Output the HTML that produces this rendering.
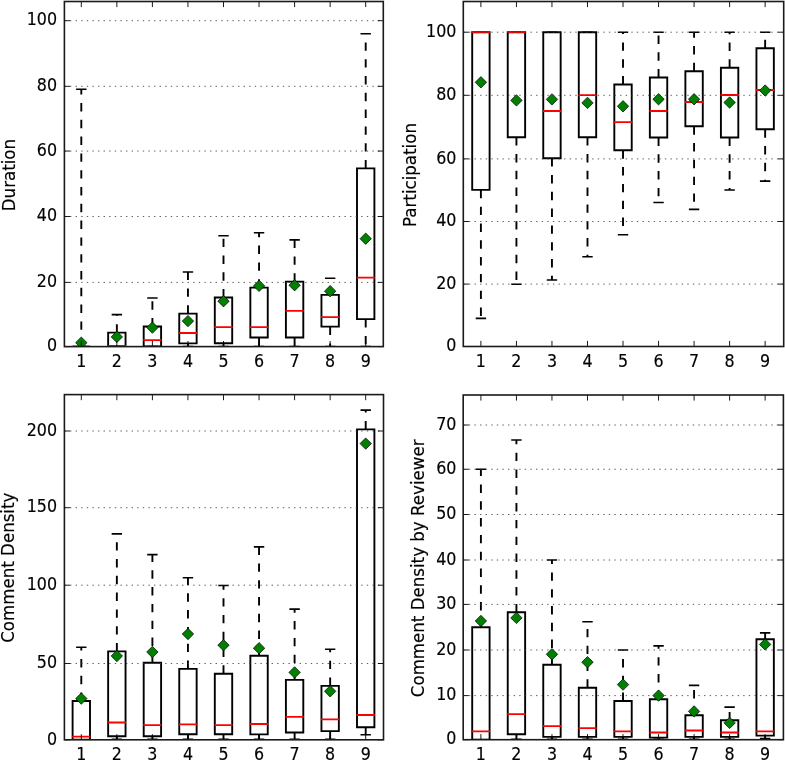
<!DOCTYPE html>
<html lang="en"><head><meta charset="utf-8"><title>Boxplots</title>
<style>
html,body{margin:0;padding:0;background:#fff;}
body{width:785px;height:760px;overflow:hidden;}
svg{display:block;}
text{font-family:"DejaVu Sans","Liberation Sans",sans-serif;font-size:16.67px;fill:#000;stroke:#000;stroke-width:0.15px;}
.sp{fill:none;stroke:#1a1a1a;stroke-width:1.6;}
.bx{fill:none;stroke:#000;stroke-width:1.9;stroke-linejoin:miter;}
.wh{fill:none;stroke:#000;stroke-width:1.9;stroke-dasharray:8.4 8.4;}
.cp{fill:none;stroke:#000;stroke-width:1.6;}
.md{fill:none;stroke:#f00;stroke-width:1.8;}
.mn{fill:#008000;stroke:#000;stroke-width:0.7;}
.gr{fill:none;stroke:#3a3a3a;stroke-opacity:0.9;stroke-width:0.9;stroke-dasharray:1.4 4.2;}
.tk{fill:none;stroke:#000;stroke-width:0.9;}
</style></head><body>
<svg width="785" height="760" viewBox="0 0 785 760">
<rect x="0" y="0" width="785" height="760" fill="#fff"/>
<g>
<clipPath id="c0"><rect x="64.4" y="1.5" width="318.9" height="345.1"/></clipPath>
<g clip-path="url(#c0)">
<path class="wh" d="M81.3 346.6V89.3"/>
<path class="cp" d="M76.1 89.3H86.5"/>
<path class="cp" d="M76.1 346.6H86.5"/>
<path class="bx" d="M72.6 346.6H90V346.6H72.6Z"/>
<path class="md" d="M72.2 346.6H90.4"/>
<path class="wh" d="M116.85 332.6V314.6"/>
<path class="cp" d="M111.65 314.6H122.05"/>
<path class="cp" d="M111.65 346.6H122.05"/>
<path class="bx" d="M108.15 346.6H125.55V332.6H108.15Z"/>
<path class="md" d="M107.75 345.8H125.95"/>
<path class="wh" d="M152.4 326.5V298"/>
<path class="cp" d="M147.2 298H157.6"/>
<path class="cp" d="M147.2 346.6H157.6"/>
<path class="bx" d="M143.7 346.4H161.1V326.5H143.7Z"/>
<path class="md" d="M143.3 340.2H161.5"/>
<path class="wh" d="M187.95 313.6V272"/>
<path class="wh" d="M187.95 343.4V346.6"/>
<path class="cp" d="M182.75 272H193.15"/>
<path class="cp" d="M182.75 346.6H193.15"/>
<path class="bx" d="M179.25 343.4H196.65V313.6H179.25Z"/>
<path class="md" d="M178.85 333H197.05"/>
<path class="wh" d="M223.5 297.5V235.8"/>
<path class="wh" d="M223.5 343.3V346.6"/>
<path class="cp" d="M218.3 235.8H228.7"/>
<path class="cp" d="M218.3 346.6H228.7"/>
<path class="bx" d="M214.8 343.3H232.2V297.5H214.8Z"/>
<path class="md" d="M214.4 327.1H232.6"/>
<path class="wh" d="M259.05 287.6V232.7"/>
<path class="wh" d="M259.05 337.5V346.6"/>
<path class="cp" d="M253.85 232.7H264.25"/>
<path class="cp" d="M253.85 346.6H264.25"/>
<path class="bx" d="M250.35 337.5H267.75V287.6H250.35Z"/>
<path class="md" d="M249.95 327.1H268.15"/>
<path class="wh" d="M294.6 281.6V239.9"/>
<path class="wh" d="M294.6 337.5V346.6"/>
<path class="cp" d="M289.4 239.9H299.8"/>
<path class="cp" d="M289.4 346.6H299.8"/>
<path class="bx" d="M285.9 337.5H303.3V281.6H285.9Z"/>
<path class="md" d="M285.5 310.9H303.7"/>
<path class="wh" d="M330.15 294.9V278.2"/>
<path class="wh" d="M330.15 326.6V346.6"/>
<path class="cp" d="M324.95 278.2H335.35"/>
<path class="cp" d="M324.95 346.6H335.35"/>
<path class="bx" d="M321.45 326.6H338.85V294.9H321.45Z"/>
<path class="md" d="M321.05 317.1H339.25"/>
<path class="wh" d="M365.7 168.4V33.7"/>
<path class="wh" d="M365.7 319.1V346.6"/>
<path class="cp" d="M360.5 33.7H370.9"/>
<path class="cp" d="M360.5 346.6H370.9"/>
<path class="bx" d="M357 319.1H374.4V168.4H357Z"/>
<path class="md" d="M356.6 277.7H374.8"/>
<path class="mn" d="M81.3 337L87 342.7L81.3 348.4L75.6 342.7Z"/>
<path class="mn" d="M116.85 331.2L122.55 336.9L116.85 342.6L111.15 336.9Z"/>
<path class="mn" d="M152.4 321.9L158.1 327.6L152.4 333.3L146.7 327.6Z"/>
<path class="mn" d="M187.95 315.4L193.65 321.1L187.95 326.8L182.25 321.1Z"/>
<path class="mn" d="M223.5 295.5L229.2 301.2L223.5 306.9L217.8 301.2Z"/>
<path class="mn" d="M259.05 280.2L264.75 285.9L259.05 291.6L253.35 285.9Z"/>
<path class="mn" d="M294.6 279.5L300.3 285.2L294.6 290.9L288.9 285.2Z"/>
<path class="mn" d="M330.15 285.5L335.85 291.2L330.15 296.9L324.45 291.2Z"/>
<path class="mn" d="M365.7 233L371.4 238.7L365.7 244.4L360 238.7Z"/>
</g>
<path class="tk" d="M64.4 346.6h5.6 M383.3 346.6h-5.6"/>
<path class="gr" d="M64.4 282.4H383.3"/>
<path class="tk" d="M64.4 282.4h5.6 M383.3 282.4h-5.6"/>
<path class="gr" d="M64.4 216.5H383.3"/>
<path class="tk" d="M64.4 216.5h5.6 M383.3 216.5h-5.6"/>
<path class="gr" d="M64.4 151.05H383.3"/>
<path class="tk" d="M64.4 151.05h5.6 M383.3 151.05h-5.6"/>
<path class="gr" d="M64.4 86.3H383.3"/>
<path class="tk" d="M64.4 86.3h5.6 M383.3 86.3h-5.6"/>
<path class="gr" d="M64.4 20.7H383.3"/>
<path class="tk" d="M64.4 20.7h5.6 M383.3 20.7h-5.6"/>
<path class="tk" d="M81.3 346.6v-5.6 M81.3 1.5v5.6"/>
<path class="tk" d="M116.85 346.6v-5.6 M116.85 1.5v5.6"/>
<path class="tk" d="M152.4 346.6v-5.6 M152.4 1.5v5.6"/>
<path class="tk" d="M187.95 346.6v-5.6 M187.95 1.5v5.6"/>
<path class="tk" d="M223.5 346.6v-5.6 M223.5 1.5v5.6"/>
<path class="tk" d="M259.05 346.6v-5.6 M259.05 1.5v5.6"/>
<path class="tk" d="M294.6 346.6v-5.6 M294.6 1.5v5.6"/>
<path class="tk" d="M330.15 346.6v-5.6 M330.15 1.5v5.6"/>
<path class="tk" d="M365.7 346.6v-5.6 M365.7 1.5v5.6"/>
<rect class="sp" x="64.4" y="1.5" width="318.9" height="345.1"/>
<text transform="translate(57.1 351.35) scale(0.955 1.10)" text-anchor="end">0</text>
<text transform="translate(57.1 287.15) scale(0.955 1.10)" text-anchor="end">20</text>
<text transform="translate(57.1 221.25) scale(0.955 1.10)" text-anchor="end">40</text>
<text transform="translate(57.1 155.8) scale(0.955 1.10)" text-anchor="end">60</text>
<text transform="translate(57.1 91.05) scale(0.955 1.10)" text-anchor="end">80</text>
<text transform="translate(57.1 25.45) scale(0.955 1.10)" text-anchor="end">100</text>
<text transform="translate(81.3 366.9) scale(0.955 1.10)" text-anchor="middle">1</text>
<text transform="translate(116.85 366.9) scale(0.955 1.10)" text-anchor="middle">2</text>
<text transform="translate(152.4 366.9) scale(0.955 1.10)" text-anchor="middle">3</text>
<text transform="translate(187.95 366.9) scale(0.955 1.10)" text-anchor="middle">4</text>
<text transform="translate(223.5 366.9) scale(0.955 1.10)" text-anchor="middle">5</text>
<text transform="translate(259.05 366.9) scale(0.955 1.10)" text-anchor="middle">6</text>
<text transform="translate(294.6 366.9) scale(0.955 1.10)" text-anchor="middle">7</text>
<text transform="translate(330.15 366.9) scale(0.955 1.10)" text-anchor="middle">8</text>
<text transform="translate(365.7 366.9) scale(0.955 1.10)" text-anchor="middle">9</text>
<text transform="translate(15.2 175.05) rotate(-90) scale(1 1.08)" text-anchor="middle">Duration</text>
</g>
<g>
<clipPath id="c1"><rect x="463.3" y="1.5" width="320.4" height="345"/></clipPath>
<g clip-path="url(#c1)">
<path class="wh" d="M480.9 189.9V318.4"/>
<path class="cp" d="M475.7 32.2H486.1"/>
<path class="cp" d="M475.7 318.4H486.1"/>
<path class="bx" d="M472.2 189.9H489.6V32.2H472.2Z"/>
<path class="md" d="M471.8 32.2H490"/>
<path class="wh" d="M516.43 137.2V284.2"/>
<path class="cp" d="M511.23 32.2H521.63"/>
<path class="cp" d="M511.23 284.2H521.63"/>
<path class="bx" d="M507.73 137.2H525.13V32.2H507.73Z"/>
<path class="md" d="M507.33 32.2H525.53"/>
<path class="wh" d="M551.96 158.2V280.05"/>
<path class="cp" d="M546.76 32.2H557.16"/>
<path class="cp" d="M546.76 280.05H557.16"/>
<path class="bx" d="M543.26 158.2H560.66V32.2H543.26Z"/>
<path class="md" d="M542.86 111H561.06"/>
<path class="wh" d="M587.49 137.2V256.8"/>
<path class="cp" d="M582.29 32.2H592.69"/>
<path class="cp" d="M582.29 256.8H592.69"/>
<path class="bx" d="M578.79 137.2H596.19V32.2H578.79Z"/>
<path class="md" d="M578.39 95.1H596.59"/>
<path class="wh" d="M623.02 84.45V32.3"/>
<path class="wh" d="M623.02 150.3V234.7"/>
<path class="cp" d="M617.82 32.3H628.22"/>
<path class="cp" d="M617.82 234.7H628.22"/>
<path class="bx" d="M614.32 150.3H631.72V84.45H614.32Z"/>
<path class="md" d="M613.92 122.1H632.12"/>
<path class="wh" d="M658.55 77.5V32.3"/>
<path class="wh" d="M658.55 137.5V202.45"/>
<path class="cp" d="M653.35 32.3H663.75"/>
<path class="cp" d="M653.35 202.45H663.75"/>
<path class="bx" d="M649.85 137.5H667.25V77.5H649.85Z"/>
<path class="md" d="M649.45 111H667.65"/>
<path class="wh" d="M694.08 71.25V32.3"/>
<path class="wh" d="M694.08 126.25V209.4"/>
<path class="cp" d="M688.88 32.3H699.28"/>
<path class="cp" d="M688.88 209.4H699.28"/>
<path class="bx" d="M685.38 126.25H702.78V71.25H685.38Z"/>
<path class="md" d="M684.98 102H703.18"/>
<path class="wh" d="M729.61 67.75V32.3"/>
<path class="wh" d="M729.61 137.5V190.05"/>
<path class="cp" d="M724.41 32.3H734.81"/>
<path class="cp" d="M724.41 190.05H734.81"/>
<path class="bx" d="M720.91 137.5H738.31V67.75H720.91Z"/>
<path class="md" d="M720.51 95H738.71"/>
<path class="wh" d="M765.14 48.25V32.3"/>
<path class="wh" d="M765.14 129.25V181.1"/>
<path class="cp" d="M759.94 32.3H770.34"/>
<path class="cp" d="M759.94 181.1H770.34"/>
<path class="bx" d="M756.44 129.25H773.84V48.25H756.44Z"/>
<path class="md" d="M756.04 90H774.24"/>
<path class="mn" d="M480.9 76.6L486.6 82.3L480.9 88L475.2 82.3Z"/>
<path class="mn" d="M516.43 94.7L522.13 100.4L516.43 106.1L510.73 100.4Z"/>
<path class="mn" d="M551.96 93.7L557.66 99.4L551.96 105.1L546.26 99.4Z"/>
<path class="mn" d="M587.49 97.2L593.19 102.9L587.49 108.6L581.79 102.9Z"/>
<path class="mn" d="M623.02 100.6L628.72 106.3L623.02 112L617.32 106.3Z"/>
<path class="mn" d="M658.55 93.55L664.25 99.25L658.55 104.95L652.85 99.25Z"/>
<path class="mn" d="M694.08 93.55L699.78 99.25L694.08 104.95L688.38 99.25Z"/>
<path class="mn" d="M729.61 96.8L735.31 102.5L729.61 108.2L723.91 102.5Z"/>
<path class="mn" d="M765.14 84.8L770.84 90.5L765.14 96.2L759.44 90.5Z"/>
</g>
<path class="tk" d="M463.3 346.5h5.6 M783.7 346.5h-5.6"/>
<path class="gr" d="M463.3 284.1H783.7"/>
<path class="tk" d="M463.3 284.1h5.6 M783.7 284.1h-5.6"/>
<path class="gr" d="M463.3 221.5H783.7"/>
<path class="tk" d="M463.3 221.5h5.6 M783.7 221.5h-5.6"/>
<path class="gr" d="M463.3 158.9H783.7"/>
<path class="tk" d="M463.3 158.9h5.6 M783.7 158.9h-5.6"/>
<path class="gr" d="M463.3 95.3H783.7"/>
<path class="tk" d="M463.3 95.3h5.6 M783.7 95.3h-5.6"/>
<path class="gr" d="M463.3 32.2H783.7"/>
<path class="tk" d="M463.3 32.2h5.6 M783.7 32.2h-5.6"/>
<path class="tk" d="M480.9 346.5v-5.6 M480.9 1.5v5.6"/>
<path class="tk" d="M516.43 346.5v-5.6 M516.43 1.5v5.6"/>
<path class="tk" d="M551.96 346.5v-5.6 M551.96 1.5v5.6"/>
<path class="tk" d="M587.49 346.5v-5.6 M587.49 1.5v5.6"/>
<path class="tk" d="M623.02 346.5v-5.6 M623.02 1.5v5.6"/>
<path class="tk" d="M658.55 346.5v-5.6 M658.55 1.5v5.6"/>
<path class="tk" d="M694.08 346.5v-5.6 M694.08 1.5v5.6"/>
<path class="tk" d="M729.61 346.5v-5.6 M729.61 1.5v5.6"/>
<path class="tk" d="M765.14 346.5v-5.6 M765.14 1.5v5.6"/>
<rect class="sp" x="463.3" y="1.5" width="320.4" height="345"/>
<text transform="translate(456.4 351.25) scale(0.955 1.10)" text-anchor="end">0</text>
<text transform="translate(456.4 288.85) scale(0.955 1.10)" text-anchor="end">20</text>
<text transform="translate(456.4 226.25) scale(0.955 1.10)" text-anchor="end">40</text>
<text transform="translate(456.4 163.65) scale(0.955 1.10)" text-anchor="end">60</text>
<text transform="translate(456.4 100.05) scale(0.955 1.10)" text-anchor="end">80</text>
<text transform="translate(456.4 36.95) scale(0.955 1.10)" text-anchor="end">100</text>
<text transform="translate(480.9 366.9) scale(0.955 1.10)" text-anchor="middle">1</text>
<text transform="translate(516.43 366.9) scale(0.955 1.10)" text-anchor="middle">2</text>
<text transform="translate(551.96 366.9) scale(0.955 1.10)" text-anchor="middle">3</text>
<text transform="translate(587.49 366.9) scale(0.955 1.10)" text-anchor="middle">4</text>
<text transform="translate(623.02 366.9) scale(0.955 1.10)" text-anchor="middle">5</text>
<text transform="translate(658.55 366.9) scale(0.955 1.10)" text-anchor="middle">6</text>
<text transform="translate(694.08 366.9) scale(0.955 1.10)" text-anchor="middle">7</text>
<text transform="translate(729.61 366.9) scale(0.955 1.10)" text-anchor="middle">8</text>
<text transform="translate(765.14 366.9) scale(0.955 1.10)" text-anchor="middle">9</text>
<text transform="translate(415.7 175) rotate(-90) scale(1 1.08)" text-anchor="middle">Participation</text>
</g>
<g>
<clipPath id="c2"><rect x="64.4" y="394.6" width="319.1" height="345.2"/></clipPath>
<g clip-path="url(#c2)">
<path class="wh" d="M81.3 701V647.3"/>
<path class="cp" d="M76.1 647.3H86.5"/>
<path class="cp" d="M76.1 739.8H86.5"/>
<path class="bx" d="M72.6 739.8H90V701H72.6Z"/>
<path class="md" d="M72.2 736.6H90.4"/>
<path class="wh" d="M116.85 651.4V533.9"/>
<path class="wh" d="M116.85 736.3V739.3"/>
<path class="cp" d="M111.65 533.9H122.05"/>
<path class="cp" d="M111.65 739.3H122.05"/>
<path class="bx" d="M108.15 736.3H125.55V651.4H108.15Z"/>
<path class="md" d="M107.75 722.5H125.95"/>
<path class="wh" d="M152.4 662.7V554.6"/>
<path class="wh" d="M152.4 736.3V739.3"/>
<path class="cp" d="M147.2 554.6H157.6"/>
<path class="cp" d="M147.2 739.3H157.6"/>
<path class="bx" d="M143.7 736.3H161.1V662.7H143.7Z"/>
<path class="md" d="M143.3 725.2H161.5"/>
<path class="wh" d="M187.95 668.9V577.7"/>
<path class="wh" d="M187.95 734.3V739.3"/>
<path class="cp" d="M182.75 577.7H193.15"/>
<path class="cp" d="M182.75 739.3H193.15"/>
<path class="bx" d="M179.25 734.3H196.65V668.9H179.25Z"/>
<path class="md" d="M178.85 724.3H197.05"/>
<path class="wh" d="M223.5 673.75V585.5"/>
<path class="wh" d="M223.5 734.3V739.3"/>
<path class="cp" d="M218.3 585.5H228.7"/>
<path class="cp" d="M218.3 739.3H228.7"/>
<path class="bx" d="M214.8 734.3H232.2V673.75H214.8Z"/>
<path class="md" d="M214.4 725.2H232.6"/>
<path class="wh" d="M259.05 655.8V546.9"/>
<path class="wh" d="M259.05 734.4V739.3"/>
<path class="cp" d="M253.85 546.9H264.25"/>
<path class="cp" d="M253.85 739.3H264.25"/>
<path class="bx" d="M250.35 734.4H267.75V655.8H250.35Z"/>
<path class="md" d="M249.95 724H268.15"/>
<path class="wh" d="M294.6 679.9V609.1"/>
<path class="wh" d="M294.6 732.5V739.2"/>
<path class="cp" d="M289.4 609.1H299.8"/>
<path class="cp" d="M289.4 739.2H299.8"/>
<path class="bx" d="M285.9 732.5H303.3V679.9H285.9Z"/>
<path class="md" d="M285.5 716.9H303.7"/>
<path class="wh" d="M330.15 685.9V649.2"/>
<path class="wh" d="M330.15 731.1V739.3"/>
<path class="cp" d="M324.95 649.2H335.35"/>
<path class="cp" d="M324.95 739.3H335.35"/>
<path class="bx" d="M321.45 731.1H338.85V685.9H321.45Z"/>
<path class="md" d="M321.05 719.3H339.25"/>
<path class="wh" d="M365.7 429.4V410.1"/>
<path class="wh" d="M365.7 727.3V734.7"/>
<path class="cp" d="M360.5 410.1H370.9"/>
<path class="cp" d="M360.5 734.7H370.9"/>
<path class="bx" d="M357 727.3H374.4V429.4H357Z"/>
<path class="md" d="M356.6 715H374.8"/>
<path class="mn" d="M81.3 692.9L87 698.6L81.3 704.3L75.6 698.6Z"/>
<path class="mn" d="M116.85 650.3L122.55 656L116.85 661.7L111.15 656Z"/>
<path class="mn" d="M152.4 646.3L158.1 652L152.4 657.7L146.7 652Z"/>
<path class="mn" d="M187.95 628.3L193.65 634L187.95 639.7L182.25 634Z"/>
<path class="mn" d="M223.5 639.45L229.2 645.15L223.5 650.85L217.8 645.15Z"/>
<path class="mn" d="M259.05 642.5L264.75 648.2L259.05 653.9L253.35 648.2Z"/>
<path class="mn" d="M294.6 666.7L300.3 672.4L294.6 678.1L288.9 672.4Z"/>
<path class="mn" d="M330.15 685.6L335.85 691.3L330.15 697L324.45 691.3Z"/>
<path class="mn" d="M365.7 437.9L371.4 443.6L365.7 449.3L360 443.6Z"/>
</g>
<path class="tk" d="M64.4 739.8h5.6 M383.5 739.8h-5.6"/>
<path class="gr" d="M64.4 663.5H383.5"/>
<path class="tk" d="M64.4 663.5h5.6 M383.5 663.5h-5.6"/>
<path class="gr" d="M64.4 585.2H383.5"/>
<path class="tk" d="M64.4 585.2h5.6 M383.5 585.2h-5.6"/>
<path class="gr" d="M64.4 507.7H383.5"/>
<path class="tk" d="M64.4 507.7h5.6 M383.5 507.7h-5.6"/>
<path class="gr" d="M64.4 431H383.5"/>
<path class="tk" d="M64.4 431h5.6 M383.5 431h-5.6"/>
<path class="tk" d="M81.3 739.8v-5.6 M81.3 394.6v5.6"/>
<path class="tk" d="M116.85 739.8v-5.6 M116.85 394.6v5.6"/>
<path class="tk" d="M152.4 739.8v-5.6 M152.4 394.6v5.6"/>
<path class="tk" d="M187.95 739.8v-5.6 M187.95 394.6v5.6"/>
<path class="tk" d="M223.5 739.8v-5.6 M223.5 394.6v5.6"/>
<path class="tk" d="M259.05 739.8v-5.6 M259.05 394.6v5.6"/>
<path class="tk" d="M294.6 739.8v-5.6 M294.6 394.6v5.6"/>
<path class="tk" d="M330.15 739.8v-5.6 M330.15 394.6v5.6"/>
<path class="tk" d="M365.7 739.8v-5.6 M365.7 394.6v5.6"/>
<rect class="sp" x="64.4" y="394.6" width="319.1" height="345.2"/>
<text transform="translate(57.1 744.55) scale(0.955 1.10)" text-anchor="end">0</text>
<text transform="translate(57.1 668.25) scale(0.955 1.10)" text-anchor="end">50</text>
<text transform="translate(57.1 589.95) scale(0.955 1.10)" text-anchor="end">100</text>
<text transform="translate(57.1 512.45) scale(0.955 1.10)" text-anchor="end">150</text>
<text transform="translate(57.1 435.75) scale(0.955 1.10)" text-anchor="end">200</text>
<text transform="translate(81.3 759.7) scale(0.955 1.10)" text-anchor="middle">1</text>
<text transform="translate(116.85 759.7) scale(0.955 1.10)" text-anchor="middle">2</text>
<text transform="translate(152.4 759.7) scale(0.955 1.10)" text-anchor="middle">3</text>
<text transform="translate(187.95 759.7) scale(0.955 1.10)" text-anchor="middle">4</text>
<text transform="translate(223.5 759.7) scale(0.955 1.10)" text-anchor="middle">5</text>
<text transform="translate(259.05 759.7) scale(0.955 1.10)" text-anchor="middle">6</text>
<text transform="translate(294.6 759.7) scale(0.955 1.10)" text-anchor="middle">7</text>
<text transform="translate(330.15 759.7) scale(0.955 1.10)" text-anchor="middle">8</text>
<text transform="translate(365.7 759.7) scale(0.955 1.10)" text-anchor="middle">9</text>
<text transform="translate(14.2 567.7) rotate(-90) scale(1 1.08)" text-anchor="middle">Comment Density</text>
</g>
<g>
<clipPath id="c3"><rect x="463.2" y="395" width="320.2" height="344.7"/></clipPath>
<g clip-path="url(#c3)">
<path class="wh" d="M480.9 627.3V469.25"/>
<path class="cp" d="M475.7 469.25H486.1"/>
<path class="cp" d="M475.7 739.7H486.1"/>
<path class="bx" d="M472.2 739.7H489.6V627.3H472.2Z"/>
<path class="md" d="M471.8 731.3H490"/>
<path class="wh" d="M516.43 612.3V440"/>
<path class="wh" d="M516.43 734.3V739.3"/>
<path class="cp" d="M511.23 440H521.63"/>
<path class="cp" d="M511.23 739.3H521.63"/>
<path class="bx" d="M507.73 734.3H525.13V612.3H507.73Z"/>
<path class="md" d="M507.33 714.2H525.53"/>
<path class="wh" d="M551.96 664.8V560"/>
<path class="wh" d="M551.96 736.9V739.3"/>
<path class="cp" d="M546.76 560H557.16"/>
<path class="cp" d="M546.76 739.3H557.16"/>
<path class="bx" d="M543.26 736.9H560.66V664.8H543.26Z"/>
<path class="md" d="M542.86 726.2H561.06"/>
<path class="wh" d="M587.49 687.7V621.7"/>
<path class="wh" d="M587.49 736.9V739.3"/>
<path class="cp" d="M582.29 621.7H592.69"/>
<path class="cp" d="M582.29 739.3H592.69"/>
<path class="bx" d="M578.79 736.9H596.19V687.7H578.79Z"/>
<path class="md" d="M578.39 728.2H596.59"/>
<path class="wh" d="M623.02 701V650"/>
<path class="wh" d="M623.02 736.9V739.3"/>
<path class="cp" d="M617.82 650H628.22"/>
<path class="cp" d="M617.82 739.3H628.22"/>
<path class="bx" d="M614.32 736.9H631.72V701H614.32Z"/>
<path class="md" d="M613.92 731.3H632.12"/>
<path class="wh" d="M658.55 699.2V645.9"/>
<path class="wh" d="M658.55 737.6V739.3"/>
<path class="cp" d="M653.35 645.9H663.75"/>
<path class="cp" d="M653.35 739.3H663.75"/>
<path class="bx" d="M649.85 737.6H667.25V699.2H649.85Z"/>
<path class="md" d="M649.45 732.5H667.65"/>
<path class="wh" d="M694.08 715.2V685.4"/>
<path class="wh" d="M694.08 736.9V739.3"/>
<path class="cp" d="M688.88 685.4H699.28"/>
<path class="cp" d="M688.88 739.3H699.28"/>
<path class="bx" d="M685.38 736.9H702.78V715.2H685.38Z"/>
<path class="md" d="M684.98 730.5H703.18"/>
<path class="wh" d="M729.61 720.3V707.1"/>
<path class="wh" d="M729.61 736.9V739.3"/>
<path class="cp" d="M724.41 707.1H734.81"/>
<path class="cp" d="M724.41 739.3H734.81"/>
<path class="bx" d="M720.91 736.9H738.31V720.3H720.91Z"/>
<path class="md" d="M720.51 732.5H738.71"/>
<path class="wh" d="M765.14 639.3V632.9"/>
<path class="wh" d="M765.14 735.6V738.5"/>
<path class="cp" d="M759.94 632.9H770.34"/>
<path class="cp" d="M759.94 738.5H770.34"/>
<path class="bx" d="M756.44 735.6H773.84V639.3H756.44Z"/>
<path class="md" d="M756.04 731.3H774.24"/>
<path class="mn" d="M480.9 615.3L486.6 621L480.9 626.7L475.2 621Z"/>
<path class="mn" d="M516.43 612.2L522.13 617.9L516.43 623.6L510.73 617.9Z"/>
<path class="mn" d="M551.96 648.6L557.66 654.3L551.96 660L546.26 654.3Z"/>
<path class="mn" d="M587.49 656.5L593.19 662.2L587.49 667.9L581.79 662.2Z"/>
<path class="mn" d="M623.02 678.9L628.72 684.6L623.02 690.3L617.32 684.6Z"/>
<path class="mn" d="M658.55 689.9L664.25 695.6L658.55 701.3L652.85 695.6Z"/>
<path class="mn" d="M694.08 705.7L699.78 711.4L694.08 717.1L688.38 711.4Z"/>
<path class="mn" d="M729.61 717.2L735.31 722.9L729.61 728.6L723.91 722.9Z"/>
<path class="mn" d="M765.14 638.7L770.84 644.4L765.14 650.1L759.44 644.4Z"/>
</g>
<path class="tk" d="M463.2 739.7h5.6 M783.4 739.7h-5.6"/>
<path class="gr" d="M463.2 695.6H783.4"/>
<path class="tk" d="M463.2 695.6h5.6 M783.4 695.6h-5.6"/>
<path class="gr" d="M463.2 650H783.4"/>
<path class="tk" d="M463.2 650h5.6 M783.4 650h-5.6"/>
<path class="gr" d="M463.2 604.4H783.4"/>
<path class="tk" d="M463.2 604.4h5.6 M783.4 604.4h-5.6"/>
<path class="gr" d="M463.2 560H783.4"/>
<path class="tk" d="M463.2 560h5.6 M783.4 560h-5.6"/>
<path class="gr" d="M463.2 514.5H783.4"/>
<path class="tk" d="M463.2 514.5h5.6 M783.4 514.5h-5.6"/>
<path class="gr" d="M463.2 469.25H783.4"/>
<path class="tk" d="M463.2 469.25h5.6 M783.4 469.25h-5.6"/>
<path class="gr" d="M463.2 425H783.4"/>
<path class="tk" d="M463.2 425h5.6 M783.4 425h-5.6"/>
<path class="tk" d="M480.9 739.7v-5.6 M480.9 395v5.6"/>
<path class="tk" d="M516.43 739.7v-5.6 M516.43 395v5.6"/>
<path class="tk" d="M551.96 739.7v-5.6 M551.96 395v5.6"/>
<path class="tk" d="M587.49 739.7v-5.6 M587.49 395v5.6"/>
<path class="tk" d="M623.02 739.7v-5.6 M623.02 395v5.6"/>
<path class="tk" d="M658.55 739.7v-5.6 M658.55 395v5.6"/>
<path class="tk" d="M694.08 739.7v-5.6 M694.08 395v5.6"/>
<path class="tk" d="M729.61 739.7v-5.6 M729.61 395v5.6"/>
<path class="tk" d="M765.14 739.7v-5.6 M765.14 395v5.6"/>
<rect class="sp" x="463.2" y="395" width="320.2" height="344.7"/>
<text transform="translate(456.4 744.45) scale(0.955 1.10)" text-anchor="end">0</text>
<text transform="translate(456.4 700.35) scale(0.955 1.10)" text-anchor="end">10</text>
<text transform="translate(456.4 654.75) scale(0.955 1.10)" text-anchor="end">20</text>
<text transform="translate(456.4 609.15) scale(0.955 1.10)" text-anchor="end">30</text>
<text transform="translate(456.4 564.75) scale(0.955 1.10)" text-anchor="end">40</text>
<text transform="translate(456.4 519.25) scale(0.955 1.10)" text-anchor="end">50</text>
<text transform="translate(456.4 474) scale(0.955 1.10)" text-anchor="end">60</text>
<text transform="translate(456.4 429.75) scale(0.955 1.10)" text-anchor="end">70</text>
<text transform="translate(480.9 759.7) scale(0.955 1.10)" text-anchor="middle">1</text>
<text transform="translate(516.43 759.7) scale(0.955 1.10)" text-anchor="middle">2</text>
<text transform="translate(551.96 759.7) scale(0.955 1.10)" text-anchor="middle">3</text>
<text transform="translate(587.49 759.7) scale(0.955 1.10)" text-anchor="middle">4</text>
<text transform="translate(623.02 759.7) scale(0.955 1.10)" text-anchor="middle">5</text>
<text transform="translate(658.55 759.7) scale(0.955 1.10)" text-anchor="middle">6</text>
<text transform="translate(694.08 759.7) scale(0.955 1.10)" text-anchor="middle">7</text>
<text transform="translate(729.61 759.7) scale(0.955 1.10)" text-anchor="middle">8</text>
<text transform="translate(765.14 759.7) scale(0.955 1.10)" text-anchor="middle">9</text>
<text transform="translate(423.75 568.35) rotate(-90) scale(1 1.08)" text-anchor="middle">Comment Density by Reviewer</text>
</g>
</svg>
</body></html>
